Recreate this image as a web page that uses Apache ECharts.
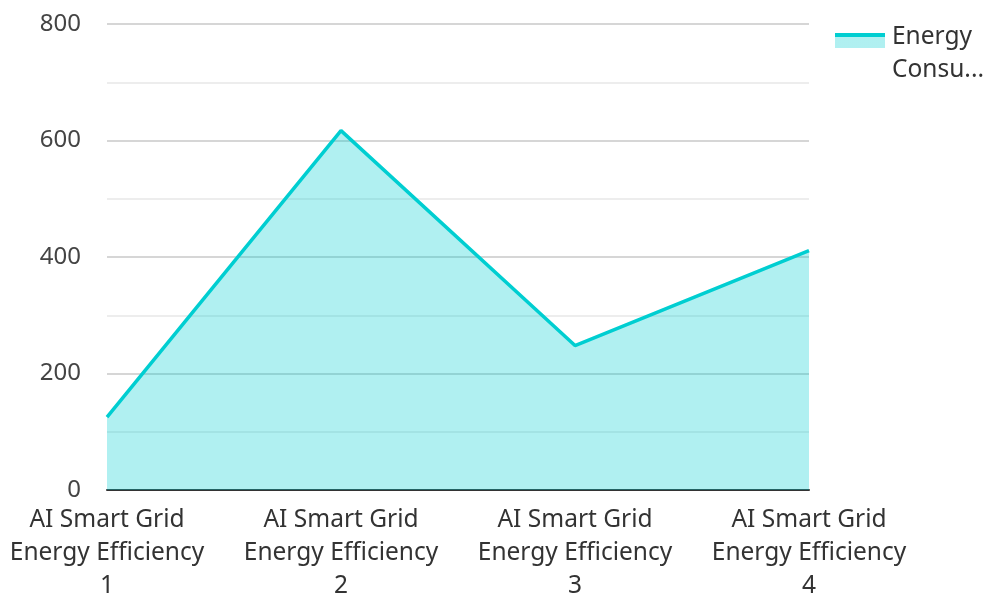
<!DOCTYPE html>
<html>
<head>
<meta charset="utf-8">
<script src="https://cdn.jsdelivr.net/npm/echarts@6/dist/echarts.min.js"></script>
<style>
  html, body { margin: 0; padding: 0; background: #ffffff; }
  #chart { width: 988px; height: 594px; }
</style>
</head>
<body>
<div id="chart"></div>
<script>
// Categories along the x axis
const categories = [
  'AI Smart Grid Energy Efficiency 1',
  'AI Smart Grid Energy Efficiency 2',
  'AI Smart Grid Energy Efficiency 3',
  'AI Smart Grid Energy Efficiency 4'
];
// Energy consumption per category
const energyValues = [125, 617, 248, 411];
const seriesName = 'Energy Consumption';

const FONT = '"Noto Sans", sans-serif';
const LINE_COLOR = '#00CED1';
const AREA_COLOR = 'rgba(0, 206, 209, 0.31)';

const chart = echarts.init(document.getElementById('chart'), null, { renderer: 'canvas' });

// Legend swatch: solid line band over the translucent area colour,
// drawn in the top part of a taller item box so it sits beside the first text line
const swatch = new echarts.graphic.LinearGradient(0, 0, 0, 1, [
  { offset: 0, color: LINE_COLOR },
  { offset: 0.09, color: LINE_COLOR },
  { offset: 0.09, color: AREA_COLOR },
  { offset: 1, color: AREA_COLOR }
]);

// Wrap a category name onto three lines: "AI Smart Grid" / "Energy Efficiency" / index
const wrapCategory = v => v.replace(' Energy', '\nEnergy').replace(/ (\d+)$/, '\n$1');

chart.setOption({
  backgroundColor: '#ffffff',
  animation: false,
  textStyle: { fontFamily: FONT },
  grid: { left: 107, right: 179, top: 24, bottom: 104, containLabel: false, outerBoundsMode: 'none' },
  legend: {
    left: 835,
    top: 20.5,
    padding: 0,
    orient: 'vertical',
    itemWidth: 50,
    itemHeight: 41,
    itemGap: 10,
    formatter: name => name.replace(' ', '\n'),
    textStyle: {
      fontFamily: FONT,
      fontSize: 24.5,
      color: '#333',
      width: 104,
      lineHeight: 33,
      overflow: 'truncate',
      padding: [0, 0, 0, 2]
    },
    data: [{
      name: seriesName,
      icon: 'path://M0,0H50V15H0Z M0,41L50,41',
      itemStyle: { color: swatch, borderWidth: 0 }
    }]
  },
  xAxis: {
    type: 'category',
    data: categories,
    boundaryGap: false,
    axisLine: { lineStyle: { color: '#333', width: 2 } },
    axisTick: { show: false },
    axisLabel: {
      fontFamily: FONT,
      fontSize: 24.5,
      color: '#333',
      formatter: wrapCategory,
      lineHeight: 33,
      margin: 14,
      interval: 0
    }
  },
  yAxis: {
    type: 'value',
    min: 0,
    max: 800,
    interval: 200,
    axisLine: { show: false },
    axisTick: { show: false },
    axisLabel: { fontFamily: FONT, fontSize: 24, color: '#444', margin: 26 },
    splitLine: { lineStyle: { color: '#c8c8c8', width: 1.5 } },
    minorTick: { show: false, splitNumber: 2 },
    minorSplitLine: { show: true, lineStyle: { color: '#e8e8e8', width: 1.5 } }
  },
  series: [{
    name: seriesName,
    type: 'line',
    data: energyValues,
    symbol: 'none',
    lineStyle: { color: LINE_COLOR, width: 3.5 },
    itemStyle: { color: LINE_COLOR },
    areaStyle: { color: AREA_COLOR, opacity: 1 }
  }]
});
</script>
</body>
</html>
